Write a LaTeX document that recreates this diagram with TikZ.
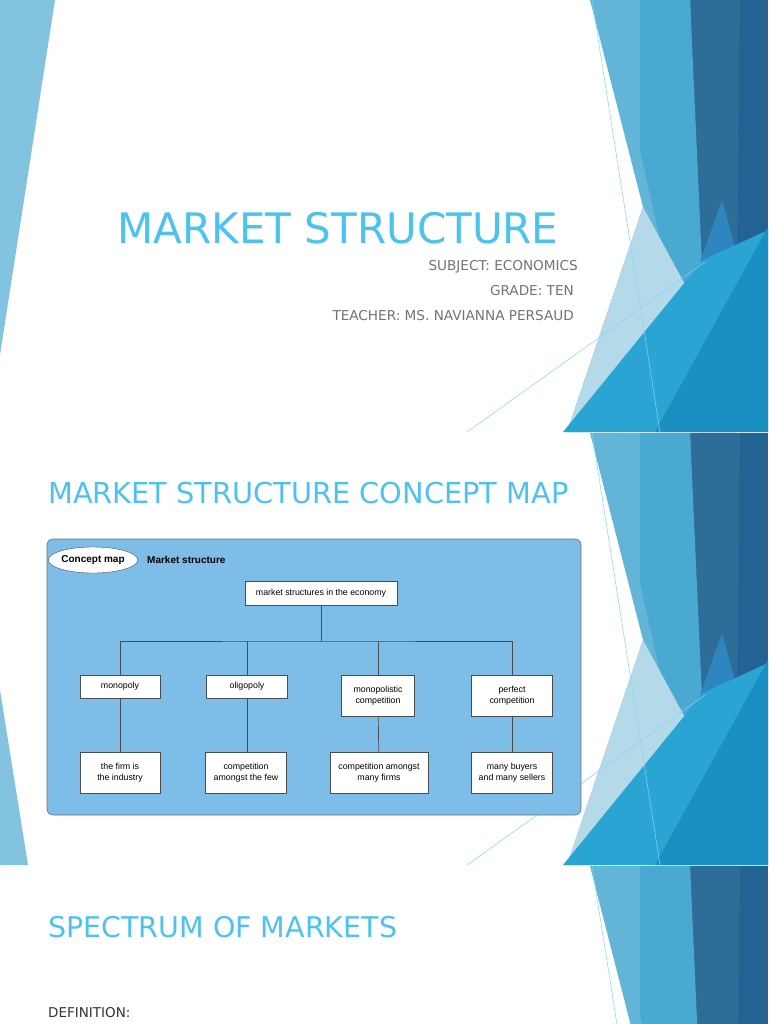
\documentclass[tikz,border=0pt]{standalone}
\usepackage{fontspec}
\setmainfont{DejaVu Sans}
\setsansfont{Liberation Sans}
\usetikzlibrary{shapes.geometric}
\begin{document}
\begin{tikzpicture}[x=1pt,y=-1pt,
  ttl/.style={text=titleblue,anchor=west,inner sep=0},
  cbox/.style={draw=black!70,fill=white,line width=0.6pt,align=center,font=\fontsize{8.8}{11}\selectfont\sffamily,inner sep=2pt},
  cline/.style={draw=black!70,line width=0.7pt}]
\definecolor{titleblue}{HTML}{4CC3EF}
\definecolor{lb}{HTML}{63B5D8}
\definecolor{pale}{HTML}{B4DAEA}
\definecolor{mid}{HTML}{4AA9D0}
\definecolor{dk}{HTML}{236393}
\definecolor{dk2}{HTML}{2D6D98}
\definecolor{br}{HTML}{2AA5D3}
\definecolor{br2}{HTML}{1A90C2}
\definecolor{mb}{HTML}{2E86C0}
\definecolor{panel}{HTML}{7DBDE8}
\useasboundingbox (0,0) rectangle (768,1024);
\fill[white] (0,0) rectangle (768,1024);
\foreach \o in {0,433,866}{
\begin{scope}[shift={(0,\o)}]
 \clip (0,0) rectangle (768,432);
 \fill[dk] (688,0) rectangle (768,432);
 \fill[dk2] (688,0) -- (740,0) -- (735,432) -- (700,432) -- cycle;
 \fill[lb] (590,0) -- (690,0) -- (705,432) -- (567,432) -- (643,207) -- cycle;
 \fill[mid] (640,0) -- (690,0) -- (705,330) -- (680,330) -- (640,150) -- cycle;
 \fill[pale] (643,207) -- (688,290) -- (690,330) -- (620,432) -- (567,432) -- cycle;
 \fill[mb] (700,262) -- (722,200) -- (735,248) -- cycle;
 \fill[br] (563,432) -- (703,260) -- (768,230) -- (768,432) -- cycle;
 \fill[br2] (655,432) -- (768,227) -- (768,432) -- cycle;
 \draw[titleblue!70,line width=0.5pt] (592,0) -- (660,432);
 \draw[titleblue!70,line width=0.5pt] (467,432) -- (705,262);
\end{scope}}
\fill[lb!80] (0,0) -- (55,0) -- (0,355) -- cycle;
\fill[lb!80] (0,690) -- (28,865) -- (0,865) -- cycle;
% slide 1
\node[text=titleblue,font=\fontsize{42}{44}\selectfont,inner sep=0] (title) at (338,228) {MARKET STRUCTURE};
\begin{scope}[every node/.style={anchor=east,text=black!55,font=\fontsize{13.6}{15}\selectfont,inner sep=0}]
\node (s1) at (578,267) {SUBJECT: ECONOMICS};
\node (s2) at (574,291) {GRADE: TEN};
\node (s3) at (574,316) {TEACHER: MS. NAVIANNA PERSAUD};
\end{scope}
% slide 2
\node[ttl,font=\fontsize{28.8}{30}\selectfont] (t2) at (48,493) {MARKET STRUCTURE CONCEPT MAP};
\draw[fill=panel,draw=black!55,rounded corners=6pt,line width=0.6pt] (47,539) rectangle (581,815);
\node[draw=black!70,fill=white,ellipse,minimum width=83pt,minimum height=26pt,inner sep=0,font=\fontsize{10}{11}\selectfont\sffamily\bfseries] (cm) at (93,560) {Concept map};
\node[anchor=west,inner sep=0,font=\fontsize{10}{11}\selectfont\sffamily\bfseries] (ms) at (147,560) {Market structure};
\node[cbox,minimum width=152pt,minimum height=24pt] (top) at (321,593) {market structures in the economy};
\node[cbox,minimum width=80pt,minimum height=23pt] (a1) at (120,686.5) {monopoly};
\node[cbox,minimum width=81pt,minimum height=23pt] (b1) at (247,686.5) {oligopoly};
\node[cbox,minimum width=73pt,minimum height=41pt] (c1) at (378,695.5) {monopolistic\\competition};
\node[cbox,minimum width=81pt,minimum height=41pt] (d1) at (512,695.5) {perfect\\competition};
\node[cbox,minimum width=80pt,minimum height=41pt] (a2) at (120,772.5) {the firm is\\the industry};
\node[cbox,minimum width=81pt,minimum height=41pt] (b2) at (246,772.5) {competition\\amongst the few};
\node[cbox,minimum width=98pt,minimum height=41pt] (c2) at (379,772.5) {competition amongst\\many firms};
\node[cbox,minimum width=81pt,minimum height=41pt] (d2) at (512,772.5) {many buyers\\and many sellers};
\coordinate (bar) at (321,641);
\draw[cline] (top.south) -- (bar);
\draw[cline] (a1.north) |- (bar) -| (d1.north);
\draw[cline] (b1.north) -- (b1.north |- bar);
\draw[cline] (c1.north) -- (c1.north |- bar);
\draw[cline] (a1) -- (a2); \draw[cline] (b1.south) -- (b1.south |- b2.north);
\draw[cline] (c1) -- (c2); \draw[cline] (d1) -- (d2);
% slide 3
\node[ttl,font=\fontsize{28.5}{30}\selectfont] (t3) at (48,927) {SPECTRUM OF MARKETS};
\node[anchor=west,inner sep=0,text=black!80,font=\fontsize{13.5}{15}\selectfont] (def) at (48,1013) {DEFINITION:};
\end{tikzpicture}
\end{document}
